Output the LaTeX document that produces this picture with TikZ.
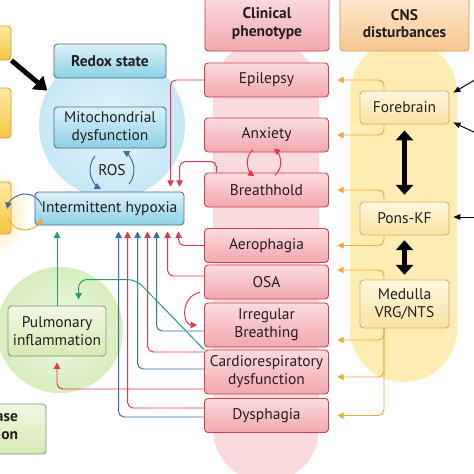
\documentclass[tikz,border=0pt]{standalone}
\usepackage{fontspec}
\setmainfont{PT Sans}
\usetikzlibrary{arrows.meta,calc,positioning}

\definecolor{clinred}{HTML}{C8434F}
\definecolor{clintop}{HTML}{FBDCDE}
\definecolor{clinbot}{HTML}{F2A7AE}
\definecolor{redoxline}{HTML}{4F6E7E}
\definecolor{redoxtop}{HTML}{DDF2F9}
\definecolor{redoxbot}{HTML}{8CD0E6}
\definecolor{cnsline}{HTML}{D9AE5C}
\definecolor{cnstop}{HTML}{FEF7DE}
\definecolor{cnsbot}{HTML}{F9E2A2}
\definecolor{headtop}{HTML}{FEE9CF}
\definecolor{headbot}{HTML}{F8C690}
\definecolor{headline}{HTML}{D39A5A}
\definecolor{sidetop}{HTML}{FDEAA0}
\definecolor{sidebot}{HTML}{F6C63F}
\definecolor{sideline}{HTML}{C9A04D}
\definecolor{lungline}{HTML}{7B9A82}
\definecolor{lungtop}{HTML}{F1F8E2}
\definecolor{lungbot}{HTML}{D6EAB4}
\definecolor{pinkedge}{HTML}{FADADC}
\definecolor{pinkmid}{HTML}{FEF5F5}
\definecolor{yeledge}{HTML}{FDEDB2}
\definecolor{yelmid}{HTML}{FFFBEA}
\definecolor{ballblue}{HTML}{C6E7F5}
\definecolor{ballbluein}{HTML}{E6F5FB}
\definecolor{ballgreen}{HTML}{D8EDBE}
\definecolor{ballgreenin}{HTML}{F0F8E6}
\definecolor{glowyel}{HTML}{FBE08A}
\definecolor{arrred}{HTML}{E2374E}
\definecolor{arrblue}{HTML}{3C6DA5}
\definecolor{arrorange}{HTML}{F2A93B}
\definecolor{arrgreen}{HTML}{1FA070}
\definecolor{inktext}{HTML}{231F20}

\tikzset{
  every node/.style={text=inktext, font=\fontsize{11}{12.8}\selectfont},
  clinbox/.style={draw=clinred, line width=0.6pt, rounded corners=2.5pt, top color=clintop, bottom color=clinbot, minimum width=3.1cm, minimum height=0.85cm, align=center, inner sep=1pt},
  clinhead/.style={clinbox, minimum height=1.375cm, font=\fontsize{11}{12.5}\selectfont\bfseries},
  redoxbox/.style={draw=redoxline, line width=0.6pt, rounded corners=2.5pt, top color=redoxtop, bottom color=redoxbot, minimum width=2.8cm, minimum height=0.85cm, align=center, inner sep=1pt},
  cnsbox/.style={draw=cnsline, line width=0.6pt, rounded corners=2.5pt, top color=cnstop, bottom color=cnsbot, minimum width=2.225cm, minimum height=0.825cm, align=center, inner sep=1pt},
  cnshead/.style={draw=headline, line width=0.6pt, rounded corners=2.5pt, top color=headtop, bottom color=headbot, minimum width=3.225cm, minimum height=1.375cm, align=center, font=\fontsize{11}{12.5}\selectfont\bfseries},
  sidebox/.style={draw=sideline, line width=0.6pt, rounded corners=2.5pt, top color=sidetop, bottom color=sidebot, minimum width=0.9cm},
  lungbox/.style={draw=lungline, line width=0.6pt, rounded corners=2.5pt, top color=lungtop, bottom color=lungbot, align=center, inner sep=1pt},
  arr/.style={line width=0.7pt, rounded corners=4pt, -{Triangle[length=4.5pt,width=4.5pt]}, shorten >=0.15cm},
  redarr/.style={arr, draw=arrred},
  bluearr/.style={arr, draw=arrblue},
  orangearr/.style={arr, draw=arrorange, shorten >=0.21cm},
  greenarr/.style={arr, draw=arrgreen},
  looparr/.style={line width=0.7pt, -{Triangle[length=4.5pt,width=4.5pt]}},
  thinarr/.style={line width=0.7pt, -{Triangle[length=5pt,width=4pt]}},
  fatarrow/.style={line width=3.5pt, -{Triangle[length=9pt,width=12pt]}},
  fatdouble/.style={line width=3.5pt, {Triangle[length=7pt,width=12pt]}-{Triangle[length=7pt,width=12pt]}},
}

\begin{document}
\begin{tikzpicture}[x=0.025cm,y=0.025cm]

\useasboundingbox (0,0) rectangle (474,-474);
\clip (0,0) rectangle (474,-474);
\fill[white] (0,0) rectangle (474,-474);

% background columns and balls
\shade[left color=pinkedge, middle color=pinkmid, right color=pinkedge, rounded corners=1.325cm] (213,-40) rectangle (319,-482);
\shade[left color=yeledge, middle color=yelmid, right color=yeledge, rounded corners=1.33cm] (350,-40) rectangle (457,-382);
\node[circle, minimum size=3.65cm, inner color=ballbluein, outer color=ballblue] (redoxball) at (112,-125) {};
\node[circle, minimum size=3.15cm, inner color=ballgreenin, outer color=ballgreen] (lungball) at (60,-330) {};
\shade[inner color=glowyel, outer color=white] (-12,-212) circle[radius=1.1cm];

% left boxes
\node[sidebox, minimum height=0.85cm] (lb1) at (-7,-43) {};
\node[sidebox, minimum height=1.25cm] (lb2) at (-7,-113) {};
\node[sidebox, minimum height=1.3cm] (lb3) at (-7,-208) {};
\node[lungbox, minimum width=2.3cm, minimum height=1.25cm] (lb4) at (0,-429) {};
\node[anchor=east, align=right, font=\fontsize{11}{12.8}\selectfont\bfseries] (lb4txt) at (23,-427) {ase\\tion};

% redox state
\node[redoxbox, font=\fontsize{11}{12.8}\selectfont\bfseries] (redox) at (110,-61) {Redox state};
\node[redoxbox, minimum height=1.025cm] (mito) at (110,-127.5) {Mitochondrial\\dysfunction};
\node (ros) at (112,-170) {ROS};
\node[redoxbox, minimum width=3.725cm, minimum height=0.825cm] (hyp) at (109.5,-208.5) {Intermittent hypoxia};
\node[lungbox, minimum width=2.45cm, minimum height=1.25cm] (pul) at (57,-331) {Pulmonary\\inflammation};

% clinical phenotype
\node[clinhead] (clin) at (267,-23.5) {Clinical\\phenotype};
\node[clinbox] (epi) at (266.5,-80) {Epilepsy};
\node[clinbox] (anx) at (266.5,-135) {Anxiety};
\node[clinbox] (bre) at (266.5,-190) {Breathhold};
\node[clinbox] (aero) at (266.5,-245.5) {Aerophagia};
\node[clinbox] (osa) at (266.5,-282) {OSA};
\node[clinbox, minimum height=1.1cm] (irr) at (266.5,-325) {Irregular\\Breathing};
\node[clinbox, minimum height=1.1cm] (card) at (266.5,-372) {Cardiorespiratory\\dysfunction};
\node[clinbox] (dys) at (266.5,-415.5) {Dysphagia};

% CNS disturbances
\node[cnshead] (cns) at (404.5,-23.5) {CNS\\disturbances};
\node[cnsbox] (fore) at (404.5,-107.5) {Forebrain};
\node[cnsbox] (pons) at (404.5,-218.5) {Pons-KF};
\node[cnsbox, minimum height=1.2cm] (med) at (404.5,-304) {Medulla\\VRG/NTS};

% black arrows
\draw[fatarrow] (lb1.south east) -- (redoxball.152);
\draw[fatdouble, shorten <=0.15cm, shorten >=0.17cm] (fore.south) -- (pons.north);
\draw[fatdouble, shorten <=0.12cm, shorten >=0.12cm] (pons.south) -- (med.north);
\coordinate (in1) at (478,-78);
\coordinate (in2) at (478,-134);
\coordinate (in3) at (478,-217);
\draw[thinarr] (in1) -- ($(fore.north east)+(4,-2)$);
\draw[thinarr] (in2) -- ($(fore.south east)+(4,2)$);
\draw[thinarr] (in3) -- ($(pons.east)+(4,1.5)$);

% CNS to phenotype
\draw[orangearr] ($(fore.north)+(-20.5,0)$) |- (epi.east);
\draw[orangearr] ($(fore.south)+(-20.5,0)$) |- (anx.east);
\draw[orangearr] ($(pons.north)+(-20.5,0)$) |- (bre.east);
\draw[orangearr] ($(pons.south)+(-20.5,0)$) |- (aero.east);
\draw[orangearr] ($(med.north)+(-20.5,0)$) |- ($(osa.east)+(0,12)$);
\draw[orangearr] ($(med.south)+(-20.5,0)$) |- ($(irr.east)+(0,-15)$);
\draw[orangearr] ($(med.south)+(-20.5,0)$) |- ($(card.east)+(0,-5)$);
\draw[orangearr] ($(med.south)+(-20.5,0)$) |- (dys.east);

% phenotype to hypoxia
\draw[redarr, shorten >=0.12cm] (epi.west) -| ($(hyp.north west)+(136,0)$);
\draw[redarr, shorten >=0.12cm] ($(bre.north west)+(12.5,0)$) |- ($(hyp.north west)+(145,30)$) -- ($(hyp.north west)+(145,0)$);
\draw[redarr] (aero.west) -| ($(hyp.south west)+(144,0)$);
\draw[redarr] ($(osa.west)+(0,6)$) -| ($(hyp.south west)+(133,0)$);
\draw[bluearr] ($(irr.west)+(0,-6)$) -| ($(hyp.south west)+(122,0)$);
\draw[redarr] ($(card.west)+(0,20)$) -| ($(hyp.south west)+(113,0)$);
\draw[bluearr] ($(card.west)+(0,3)$) -| ($(hyp.south west)+(103,0)$);
\draw[redarr] ($(dys.west)+(0,7.5)$) -| ($(hyp.south west)+(93,0)$);
\draw[bluearr] ($(dys.west)+(0,-1.5)$) -| ($(hyp.south west)+(84,0)$);
\draw[redarr] ($(osa.south west)+(-4,7)$) to[out=190,in=180,looseness=1.6] ($(irr.west)+(-1,0)$);

% lung
\draw[greenarr] (pul.north) -- (pul.north |- hyp.south);
\draw[greenarr, rounded corners=6pt] (card.north west) -- ++(-68,70) -| ($(pul.north west)+(71,0)$);
\draw[redarr] ($(card.west)+(0,-17)$) -| (pul.south);

% loops
\draw[looparr, arrblue] ([shift={(-40:0.55cm)}]ros.center) arc[start angle=-40, end angle=60, radius=0.55cm];
\draw[looparr, arrblue] ([shift={(140:0.55cm)}]ros.center) arc[start angle=140, end angle=240, radius=0.55cm];
\coordinate (abloop) at ($(anx.south)!0.5!(bre.north)+(-2.5,0)$);
\draw[looparr, arrred] ([shift={(-50:0.42cm)}]abloop) arc[start angle=-50, end angle=55, radius=0.42cm];
\draw[looparr, arrred] ([shift={(130:0.42cm)}]abloop) arc[start angle=130, end angle=235, radius=0.42cm];
\coordinate (lloop) at (25,-212);
\draw[looparr, arrblue] ([shift={(20:0.45cm)}]lloop) arc[start angle=20, end angle=170, radius=0.45cm];
\draw[looparr, arrorange] ([shift={(200:0.45cm)}]lloop) arc[start angle=200, end angle=340, radius=0.45cm];

\end{tikzpicture}
\end{document}
